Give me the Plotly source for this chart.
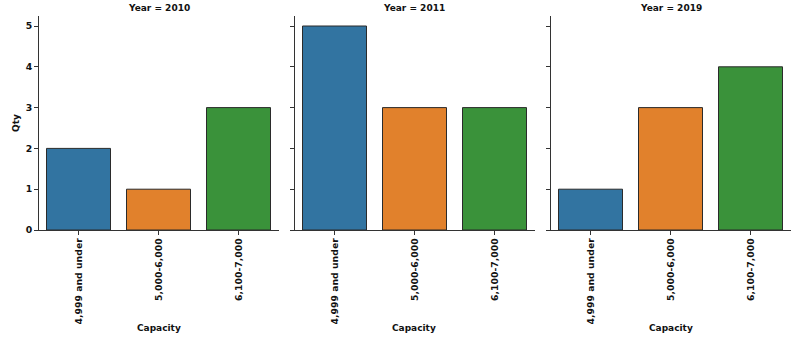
import plotly.graph_objects as go

years = [2010, 2011, 2019]
categories = ["4,999 and under", "5,000-6,000", "6,100-7,000"]
qty_2010 = [2, 1, 3]
qty_2011 = [5, 3, 3]
qty_2019 = [1, 3, 4]
colors = ["#3274a1", "#e1812c", "#3a923a"]

series = [qty_2010, qty_2011, qty_2019]
W, H = 800, 338
x_px = [(38.5, 278.5), (294.5, 534.5), (550.5, 790.5)]
y_top_px, y_bot_px = 15.8, 230
ydom = [(H - y_bot_px) / H, (H - y_top_px) / H]

fig = go.Figure()
annotations = []
for i, (yr, vals) in enumerate(zip(years, series)):
    n = "" if i == 0 else str(i + 1)
    fig.add_trace(go.Bar(
        x=categories, y=vals, xaxis="x" + n, yaxis="y" + n,
        marker=dict(color=colors, line=dict(color="#2b2b2b", width=1)),
        width=0.8, showlegend=False,
    ))
    dom = [x_px[i][0] / W, x_px[i][1] / W]
    fig.layout["xaxis" + n] = dict(
        domain=dom, anchor="y" + n, type="category",
        categoryorder="array", categoryarray=categories,
        range=[-0.5, 2.5], showline=True, linecolor="#333333", linewidth=1,
        ticks="outside", ticklen=3.5, tickwidth=1, tickcolor="#333333",
        tickangle=-90, showgrid=False, zeroline=False, automargin=False,
        tickfont=dict(family="DejaVu Sans", size=9.3, color="#111111", weight="bold"),
    )
    ydict = dict(
        domain=ydom, anchor="x" + n, range=[0, 5.25],
        tickvals=[0, 1, 2, 3, 4, 5], showline=True, linecolor="#333333", linewidth=1,
        ticks="outside", ticklen=3.5, tickwidth=1, tickcolor="#333333",
        showgrid=False, zeroline=False, showticklabels=(i == 0), automargin=False,
        tickfont=dict(family="DejaVu Sans", size=9.3, color="#111111", weight="bold"),
    )
    if i > 0:
        ydict["matches"] = "y"
    fig.layout["yaxis" + n] = ydict
    cx = (x_px[i][0] + x_px[i][1]) / 2 / W
    annotations.append(dict(
        text="<b>Year = %d</b>" % yr, x=cx, y=(H - 8) / H, xref="paper", yref="paper",
        showarrow=False, xanchor="center", yanchor="middle",
        font=dict(family="DejaVu Sans", size=9, color="#111111"),
    ))
    annotations.append(dict(
        text="<b>Capacity</b>", x=cx, y=(H - 328) / H, xref="paper", yref="paper",
        showarrow=False, xanchor="center", yanchor="middle",
        font=dict(family="DejaVu Sans", size=9, color="#111111"),
    ))

annotations.append(dict(
    text="<b>Qty</b>", x=16 / W, y=(H - 123) / H, xref="paper", yref="paper",
    showarrow=False, xanchor="center", yanchor="middle", textangle=-90,
    font=dict(family="DejaVu Sans", size=9, color="#111111"),
))

fig.update_layout(
    width=W, height=H, margin=dict(l=0, r=0, t=0, b=0, pad=0, autoexpand=False),
    paper_bgcolor="white", plot_bgcolor="white",
    annotations=annotations, bargap=0.2,
)
fig.write_html("out.html")
